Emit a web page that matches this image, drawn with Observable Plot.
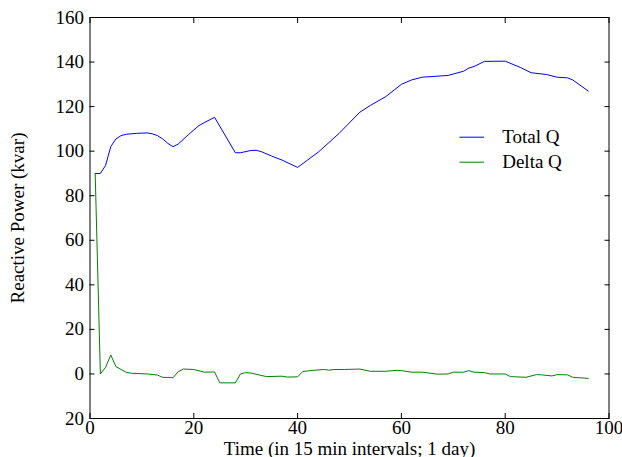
<!DOCTYPE html>
<html><head><meta charset="utf-8">
<script src="https://cdn.jsdelivr.net/npm/d3@7"></script>
<script src="https://cdn.jsdelivr.net/npm/@observablehq/plot@0.6"></script>
<style>
html,body{margin:0;padding:0;background:#fff;}
#chart svg{display:block;}
#chart svg g[aria-label$="label"] text{font-size:19px;}
</style></head><body><div id="chart"></div>
<script>
// Total Q (kvar) vertices
const totalT = [1,2,3,4,5,6,7,9,11,12,13,14,15,16,17,19,21,22,24,28,29,31,32,33,35,37,40,44,48,52,54,57,60,62,64,69,72,73,74,76,80,83,85,88,90,92,93,96];
const totalQ = [90,90,93.6,102,105.5,107,107.6,108,108.2,107.8,107,105.5,103.5,102,103.2,107.5,111.5,112.8,115.2,99.3,99.3,100.3,100.4,99.8,97.8,96,92.7,99.6,108,117.5,120.5,124.5,130,132,133.2,134,135.9,137.3,138,140.3,140.4,137.5,135.2,134.4,133.2,132.9,132,127];
// Delta Q (kvar) vertices
const deltaT = [1,2,3,4,5,6,7,8,11,13,14,16,17,18,20,22,24,25,28,29,30,31,34,37,38,40,41,43,45,46,47,49,52,54,57,59,60,62,64,67,69,70,72,73,74,76,77,80,81,84,86,87,89,90,92,93,96];
const deltaQ = [90,0,3,8.5,3.3,2,0.7,0.3,0,-0.5,-1.5,-1.7,1,2.2,2,0.8,0.9,-4,-4,0,0.6,0.4,-1.2,-1,-1.4,-1.3,1.1,1.6,2,1.7,2,2,2.2,1.2,1.2,1.6,1.5,0.8,0.8,-0.1,0,0.8,0.8,1.5,0.8,0.6,0,0,-1.2,-1.5,-0.3,-0.4,-0.9,-0.3,-0.4,-1.5,-2];

const seriesNames = ["Total Q", "Delta Q"];
const seriesColors = ["#0000ff", "#008000"];
const xTicks = [0, 20, 40, 60, 80, 100];
const yTicks = [-20, 0, 20, 40, 60, 80, 100, 120, 140, 160];
const xLabel = "Time (in 15 min intervals; 1 day)";
const yLabel = "Reactive Power (kvar)";

const total = totalT.map((t, i) => ({t, q: totalQ[i]}));
const delta = deltaT.map((t, i) => ({t, q: deltaQ[i]}));

const font = "'Liberation Serif', 'Times New Roman', Times, serif";
const fs = 18;
const fsBig = 19;
const tk = 5;
const lineShape = {draw(ctx, l) { ctx.moveTo(0, 0); ctx.lineTo(0, -l); }};

const chart = Plot.plot({
  width: 622, height: 457,
  marginLeft: 89.5, marginRight: 13.5, marginTop: 17, marginBottom: 39,
  style: {fontFamily: font, fontSize: fs + "px", background: "#fff", color: "#000", overflow: "visible"},
  x: {domain: [0, 100]},
  y: {domain: [-20, 160]},
  marks: [
    Plot.line(total, {x: "t", y: "q", stroke: seriesColors[0], strokeWidth: 1}),
    Plot.line(delta, {x: "t", y: "q", stroke: seriesColors[1], strokeWidth: 1}),
    Plot.frame({stroke: "#000", strokeWidth: 1}),
    // inward ticks on all four sides
    Plot.axisX(xTicks, {anchor: "bottom", tickSize: tk, dy: -tk, tickFormat: () => "", label: null}),
    Plot.axisX(xTicks, {anchor: "top", tickSize: tk, dy: tk, tickFormat: () => "", label: null}),
    Plot.axisY(yTicks, {anchor: "left", tickSize: tk, dx: tk, tickFormat: () => "", label: null}),
    Plot.axisY(yTicks, {anchor: "right", tickSize: tk, dx: -tk, tickFormat: () => "", label: null}),
    // tick labels and axis titles
    Plot.axisX(xTicks, {anchor: "bottom", tickSize: 0, tickPadding: 2, fontSize: fs,
      label: xLabel, labelAnchor: "center", labelArrow: "none", labelOffset: 36}),
    Plot.axisY(yTicks, {anchor: "left", tickSize: 0, tickPadding: 6, fontSize: fs,
      tickFormat: d => String(Math.abs(d)),
      label: yLabel, labelAnchor: "center", labelArrow: "none", labelOffset: 80}),
    // legend
    Plot.vector([seriesNames[0]], {frameAnchor: "top-left", dx: 369.8, dy: 119.7, rotate: 90, length: 24, anchor: "start", shape: lineShape, stroke: seriesColors[0], strokeWidth: 1}),
    Plot.vector([seriesNames[1]], {frameAnchor: "top-left", dx: 369.8, dy: 144.7, rotate: 90, length: 24, anchor: "start", shape: lineShape, stroke: seriesColors[1], strokeWidth: 1}),
    Plot.text([seriesNames[0]], {text: d => d, frameAnchor: "top-left", dx: 412.2, dy: 119.7, textAnchor: "start", lineAnchor: "middle", fontSize: fsBig, fill: "#000"}),
    Plot.text([seriesNames[1]], {text: d => d, frameAnchor: "top-left", dx: 412.2, dy: 144.7, textAnchor: "start", lineAnchor: "middle", fontSize: fsBig, fill: "#000"})
  ]
});
document.getElementById("chart").append(chart);
</script>
</body></html>
